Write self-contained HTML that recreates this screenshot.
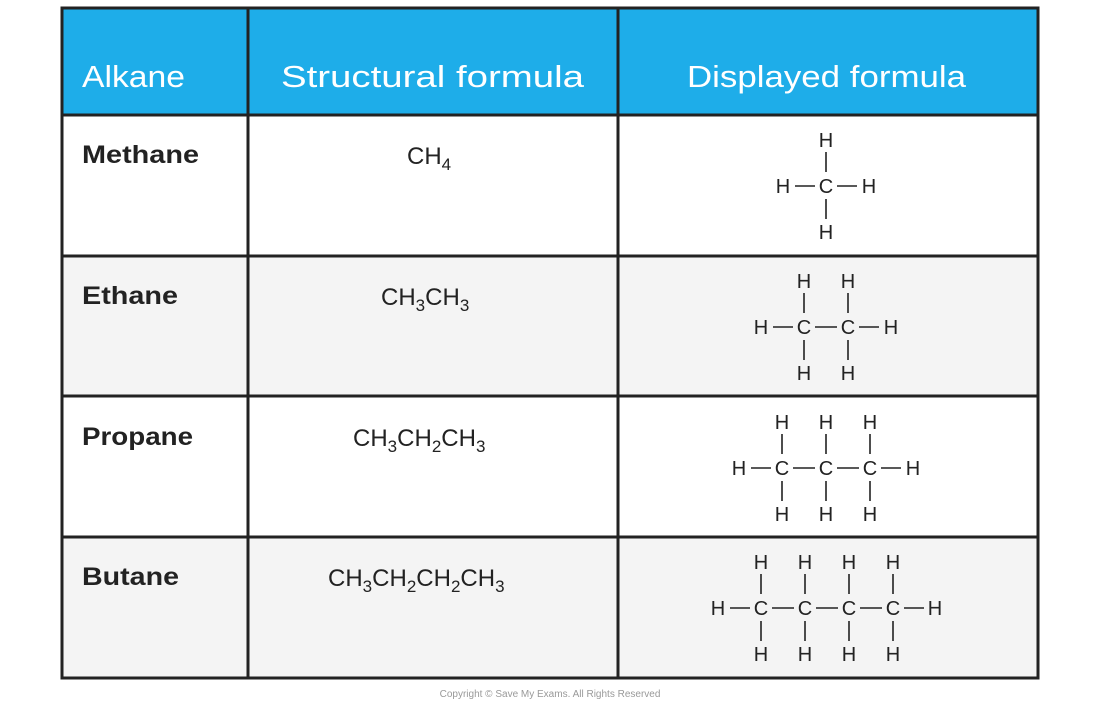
<!DOCTYPE html>
<html><head><meta charset="utf-8"><style>
html,body{margin:0;padding:0;background:#fff;}
svg{display:block;}
text{font-family:"Liberation Sans",sans-serif;}
</style></head><body>
<svg width="1100" height="704" viewBox="0 0 1100 704" xmlns="http://www.w3.org/2000/svg">
<rect x="62" y="8" width="976" height="107" fill="#1eade9"/>
<rect x="62" y="115" width="976" height="141" fill="#fff"/>
<rect x="62" y="256" width="976" height="140" fill="#f4f4f4"/>
<rect x="62" y="396" width="976" height="141" fill="#fff"/>
<rect x="62" y="537" width="976" height="141" fill="#f4f4f4"/>
<g stroke="#222" stroke-width="3" fill="none">
<rect x="62" y="8" width="976" height="670"/>
<line x1="248" y1="8" x2="248" y2="678"/>
<line x1="618" y1="8" x2="618" y2="678"/>
<line x1="62" y1="115" x2="1038" y2="115"/>
<line x1="62" y1="256" x2="1038" y2="256"/>
<line x1="62" y1="396" x2="1038" y2="396"/>
<line x1="62" y1="537" x2="1038" y2="537"/>
</g>
<g fill="#fff" font-size="31">
<text x="82" y="87" textLength="103" lengthAdjust="spacingAndGlyphs">Alkane</text>
<text x="281" y="87" textLength="303" lengthAdjust="spacingAndGlyphs">Structural formula</text>
<text x="687" y="87" textLength="279" lengthAdjust="spacingAndGlyphs">Displayed formula</text>
</g>
<g fill="#222" font-size="25" font-weight="bold">
<text x="82" y="163" textLength="117" lengthAdjust="spacingAndGlyphs">Methane</text>
<text x="82" y="304" textLength="96" lengthAdjust="spacingAndGlyphs">Ethane</text>
<text x="82" y="445" textLength="111" lengthAdjust="spacingAndGlyphs">Propane</text>
<text x="82" y="585" textLength="97" lengthAdjust="spacingAndGlyphs">Butane</text>
</g>
<g fill="#222" font-size="24">
<text x="407" y="164">CH<tspan font-size="17" dy="6">4</tspan></text>
<text x="381" y="305">CH<tspan font-size="17" dy="6">3</tspan><tspan dy="-6">CH</tspan><tspan font-size="17" dy="6">3</tspan></text>
<text x="353" y="446">CH<tspan font-size="17" dy="6">3</tspan><tspan dy="-6">CH</tspan><tspan font-size="17" dy="6">2</tspan><tspan dy="-6">CH</tspan><tspan font-size="17" dy="6">3</tspan></text>
<text x="328" y="586">CH<tspan font-size="17" dy="6">3</tspan><tspan dy="-6">CH</tspan><tspan font-size="17" dy="6">2</tspan><tspan dy="-6">CH</tspan><tspan font-size="17" dy="6">2</tspan><tspan dy="-6">CH</tspan><tspan font-size="17" dy="6">3</tspan></text>
</g>
<g fill="#222" font-size="20" text-anchor="middle">
<text x="826" y="147">H</text><text x="826" y="193">C</text><text x="826" y="239">H</text>
<text x="783" y="193">H</text><text x="869" y="193">H</text>
<text x="761" y="334">H</text><text x="891" y="334">H</text>
<text x="804" y="334">C</text><text x="848" y="334">C</text>
<text x="804" y="288">H</text><text x="848" y="288">H</text>
<text x="804" y="380">H</text><text x="848" y="380">H</text>
<text x="739" y="475">H</text><text x="913" y="475">H</text>
<text x="782" y="475">C</text><text x="826" y="475">C</text><text x="870" y="475">C</text>
<text x="782" y="429">H</text><text x="826" y="429">H</text><text x="870" y="429">H</text>
<text x="782" y="521">H</text><text x="826" y="521">H</text><text x="870" y="521">H</text>
<text x="718" y="615">H</text><text x="935" y="615">H</text>
<text x="761" y="615">C</text><text x="805" y="615">C</text><text x="849" y="615">C</text><text x="893" y="615">C</text>
<text x="761" y="569">H</text><text x="805" y="569">H</text><text x="849" y="569">H</text><text x="893" y="569">H</text>
<text x="761" y="661">H</text><text x="805" y="661">H</text><text x="849" y="661">H</text><text x="893" y="661">H</text>
</g>
<g stroke="#222" stroke-width="1.6">
<line x1="826" y1="152" x2="826" y2="172"/><line x1="826" y1="199" x2="826" y2="219"/>
<line x1="795" y1="186" x2="815" y2="186"/><line x1="837" y1="186" x2="857" y2="186"/>
<line x1="773" y1="327" x2="793" y2="327"/><line x1="815" y1="327" x2="837" y2="327"/><line x1="859" y1="327" x2="879" y2="327"/>
<line x1="804" y1="293" x2="804" y2="313"/><line x1="848" y1="293" x2="848" y2="313"/>
<line x1="804" y1="340" x2="804" y2="360"/><line x1="848" y1="340" x2="848" y2="360"/>
<line x1="751" y1="468" x2="771" y2="468"/><line x1="793" y1="468" x2="815" y2="468"/><line x1="837" y1="468" x2="859" y2="468"/><line x1="881" y1="468" x2="901" y2="468"/>
<line x1="782" y1="434" x2="782" y2="454"/><line x1="826" y1="434" x2="826" y2="454"/><line x1="870" y1="434" x2="870" y2="454"/>
<line x1="782" y1="481" x2="782" y2="501"/><line x1="826" y1="481" x2="826" y2="501"/><line x1="870" y1="481" x2="870" y2="501"/>
<line x1="730" y1="608" x2="750" y2="608"/><line x1="772" y1="608" x2="794" y2="608"/><line x1="816" y1="608" x2="838" y2="608"/><line x1="860" y1="608" x2="882" y2="608"/><line x1="904" y1="608" x2="924" y2="608"/>
<line x1="761" y1="574" x2="761" y2="594"/><line x1="805" y1="574" x2="805" y2="594"/><line x1="849" y1="574" x2="849" y2="594"/><line x1="893" y1="574" x2="893" y2="594"/>
<line x1="761" y1="621" x2="761" y2="641"/><line x1="805" y1="621" x2="805" y2="641"/><line x1="849" y1="621" x2="849" y2="641"/><line x1="893" y1="621" x2="893" y2="641"/>
</g>
<text x="550" y="697" font-size="10" fill="#999" text-anchor="middle">Copyright © Save My Exams. All Rights Reserved</text>
</svg>
</body></html>
